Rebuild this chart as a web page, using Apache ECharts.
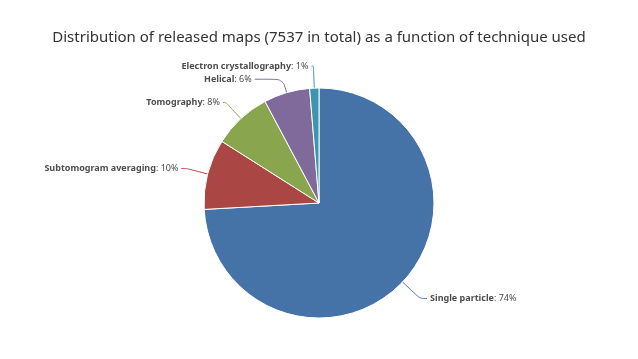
<!DOCTYPE html>
<html><head><meta charset="utf-8">
<script src="https://cdn.jsdelivr.net/npm/echarts@6/dist/echarts.min.js"></script>
<style>html,body{margin:0;padding:0;background:#fff}#c{width:638px;height:359px}</style>
</head><body><div id="c"></div>
<script>
const categories = ["Single particle", "Subtomogram averaging", "Tomography", "Helical", "Electron crystallography"];
const mapCounts = [5586, 745, 620, 488, 98];
const colors = ["#4572A7", "#AA4643", "#89A54E", "#80699B", "#3D96AE"];
const lineLen = [[24, 7], [22, 5], [22, 3], [14, 28], [22, 2]];

const total = mapCounts.reduce((a, b) => a + b, 0);
const chart = echarts.init(document.getElementById('c'));
chart.setOption({
  animation: false,
  title: {
    text: 'Distribution of released maps (7537 in total) as a function of technique used',
    left: 'center', top: 25,
    textStyle: { fontFamily: 'Noto Sans', fontSize: 15, fontWeight: 'normal', color: '#333' }
  },
  series: [{
    type: 'pie',
    center: [319, 203],
    radius: 115,
    startAngle: 90,
    clockwise: true,
    avoidLabelOverlap: false,
    itemStyle: { borderColor: '#fff', borderWidth: 1 },
    label: {
      formatter: p => '{b|' + p.name + '}{n|: ' + Math.round(p.value / total * 100) + '%}',
      distanceToLabelLine: 3,
      rich: {
        b: { fontFamily: 'Noto Sans', fontSize: 9, fontWeight: 'bold', color: '#4d4d4d' },
        n: { fontFamily: 'Noto Sans', fontSize: 9, color: '#4d4d4d' }
      }
    },
    labelLine: { smooth: 0.3, lineStyle: { width: 1 } },
    data: categories.map((c, i) => ({
      name: c, value: mapCounts[i],
      itemStyle: { color: colors[i] },
      labelLine: { length: lineLen[i][0], length2: lineLen[i][1], lineStyle: { color: colors[i] } }
    }))
  }]
});
</script></body></html>
